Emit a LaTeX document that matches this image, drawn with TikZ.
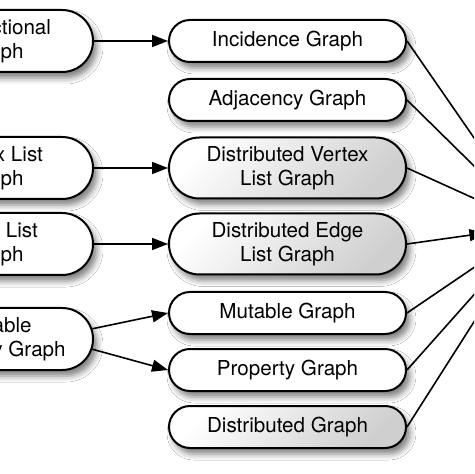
\documentclass[tikz,border=0pt]{standalone}
\usepackage{fontspec}
\setmainfont{TeX Gyre Heros}
\usetikzlibrary{shapes.misc,shadows.blur,arrows.meta}

\tikzset{
  concept/.style={shape=rounded rectangle, draw=black, line width=1pt, fill=white,
    minimum width=122.5pt, minimum height=21pt, inner xsep=2pt, inner ysep=1pt,
    align=center, font=\fontsize{10.3}{12}\selectfont,
    blur shadow={shadow xshift=2pt, shadow yshift=-3pt, shadow blur radius=3pt,
      shadow opacity=50}},
  tall/.style={minimum height=30.5pt},
  leftconcept/.style={concept, tall, minimum width=102pt, minimum height=31pt},
  dist/.style={top color=white, bottom color=black!19, shading angle=45},
  refines/.style={-{Triangle[length=8pt,width=6pt]}, line width=0.8pt},
}

\begin{document}
\begin{tikzpicture}[x=0.5pt,y=-0.5pt]
  \useasboundingbox (0,0) rectangle (474,474);
  \fill[white] (0,0) rectangle (474,474);
  \clip (0,0) rectangle (474,474);

  % left column, cut off by the frame
  \node[leftconcept] (bidir)   at (-5,41)  {Bidirectional\\Graph};
  \node[leftconcept] (vlist)   at (-5,168) {Vertex List\\Graph};
  \node[leftconcept] (elist)   at (-5,244) {Edge List\\Graph};
  \node[leftconcept] (mutprop) at (-5,339) {Mutable\\Property Graph};

  % middle column
  \node[concept]           (incid)  at (287.5,41)  {Incidence Graph};
  \node[concept]           (adjac)  at (287.5,100) {Adjacency Graph};
  \node[concept,tall,dist] (dvlist) at (287.5,168) {Distributed Vertex\\List Graph};
  \node[concept,tall,dist] (delist) at (287.5,244) {Distributed Edge\\List Graph};
  \node[concept]           (mutab)  at (287.5,313) {Mutable Graph};
  \node[concept]           (prop)   at (287.5,370) {Property Graph};
  \node[concept,dist]      (distg)  at (287.5,427) {Distributed Graph};

  % common target, outside the frame on the right
  \node[shape=rounded rectangle, minimum width=57pt, minimum height=21pt] (graph) at (535,226) {};

  % left -> middle
  \draw[refines] (bidir.east) -- (incid.west);
  \draw[refines] (vlist.east) -- (dvlist.west);
  \draw[refines] (elist.east) -- (delist.west);
  \draw[refines] (mutprop.6)  -- (mutab.west);
  \draw[refines] (mutprop.-6) -- (prop.west);

  % middle -> target
  \foreach \src in {incid,adjac,dvlist,delist,mutab,prop,distg}
    \draw[refines] (\src.east) -- (graph);
\end{tikzpicture}
\end{document}
